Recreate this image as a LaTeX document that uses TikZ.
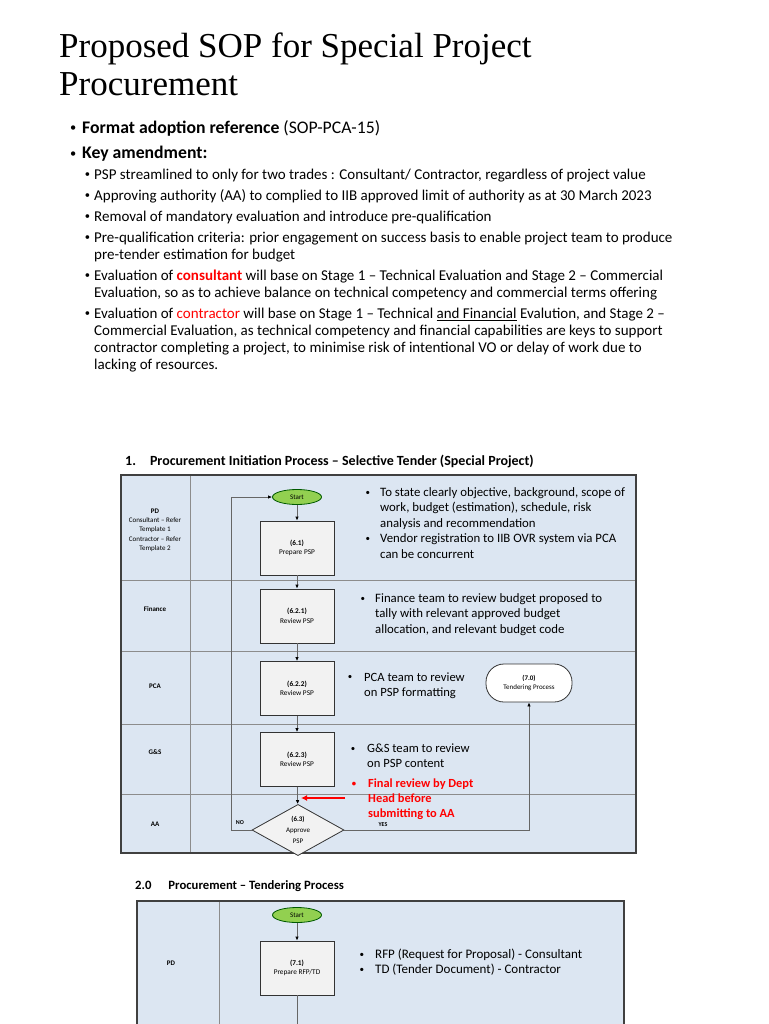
\documentclass[tikz,border=0pt]{standalone}
\usepackage{fontspec}
\setmainfont{Carlito}
\newfontfamily\titlefont{Liberation Serif}
\usepackage{graphicx}
\usepackage{tikz}
\usetikzlibrary{shapes.geometric,arrows.meta,calc,positioning}
\definecolor{laneblue}{HTML}{DCE6F2}
\definecolor{startgreen}{HTML}{92D050}
\definecolor{boxgray}{HTML}{F2F2F2}
\definecolor{notered}{HTML}{FF0000}
\tikzset{
headline/.style={font=\titlefont\fontsize{35}{38}\selectfont,align=left,anchor=west,inner sep=0pt},
toplist/.style={font=\fontsize{17.7}{20}\selectfont,align=left,anchor=west,inner sep=0pt},
sublist/.style={font=\fontsize{15}{17}\selectfont,align=left,anchor=west,inner sep=0pt},
charttitle/.style={font=\bfseries\fontsize{14}{16}\selectfont,anchor=west,inner sep=0pt},
lanebox/.style={draw=black!75,line width=1.3pt,fill=laneblue},
laneline/.style={draw=black!45,line width=0.7pt},
lanelabel/.style={font=\fontsize{7}{9.3}\selectfont,align=center,inner sep=0pt},
lanehead/.style={font=\bfseries\fontsize{7}{8}\selectfont,inner sep=0pt},
startnode/.style={ellipse,draw=green!35!black,line width=0.8pt,fill=startgreen,minimum width=49pt,minimum height=15pt,inner sep=0pt,font=\fontsize{7}{8}\selectfont},
procbox/.style={draw=black!80,line width=0.8pt,fill=boxgray,minimum width=74pt,minimum height=54pt,inner sep=1pt,align=center,font=\fontsize{7.3}{9.5}\selectfont},
decision/.style={diamond,draw=black!80,line width=0.8pt,fill=boxgray,minimum width=92pt,minimum height=46pt,inner sep=0pt,align=center,font=\fontsize{7}{11}\selectfont},
endbox/.style={draw=black!80,line width=0.8pt,fill=white,rounded corners=18pt,minimum width=86pt,minimum height=38pt,inner sep=1pt,align=center,font=\fontsize{7}{9}\selectfont},
flowline/.style={draw=black!60,line width=0.8pt},
flow/.style={flowline,-{Latex[length=4pt,width=3.5pt,color=black]}},
flowlabel/.style={font=\bfseries\fontsize{6}{7}\selectfont,inner sep=0pt},
note/.style={font=\fontsize{12.8}{15.5}\selectfont,align=left,anchor=west,inner sep=0pt},
bignote/.style={note,font=\fontsize{12.6}{15}\selectfont},
rednote/.style={note,text=notered,font=\bfseries\fontsize{12.4}{15}\selectfont},
redarrow/.style={draw=notered,line width=1.8pt,-{Latex[length=6pt,width=6pt]}}
}
\newcommand{\itemdot}[1][9pt]{\llap{\raisebox{0.1em}{\scalebox{0.7}{\textbullet}}\hspace{#1}}}

\begin{document}
\begin{tikzpicture}[x=1pt,y=-1pt]
\useasboundingbox (0,0) rectangle (768,1024);
\fill[white] (0,0) rectangle (768,1024);

% heading and amendments
\node[headline] (title) at (59,64) {Proposed SOP for Special Project\\Procurement};
\node[toplist] (ref) at (82,128) {\itemdot[6pt]\textbf{Format adoption reference} (SOP-PCA-15)};
\node[toplist] (key) at (82,154) {\itemdot[6pt]\textbf{Key amendment:}};
\node[sublist] (amend) at (94,270.5) {%
\itemdot[4pt]PSP streamlined to only for two trades : Consultant/ Contractor, regardless of project value\\[4pt]
\itemdot[4pt]Approving authority (AA) to complied to IIB approved limit of authority as at 30 March 2023\\[4pt]
\itemdot[4pt]Removal of mandatory evaluation and introduce pre-qualification\\[4pt]
\itemdot[4pt]Pre-qualification criteria: prior engagement on success basis to enable project team to produce\\
pre-tender estimation for budget\\[4pt]
\itemdot[4pt]Evaluation of \textcolor{notered}{\textbf{consultant}} will base on Stage 1 -- Technical Evaluation and Stage 2 -- Commercial\\
Evaluation, so as to achieve balance on technical competency and commercial terms offering\\[4pt]
\itemdot[4pt]Evaluation of \textcolor{notered}{contractor} will base on Stage 1 -- Technical \underline{and Financial} Evalution, and Stage 2 --\\
Commercial Evaluation, as technical competency and financial capabilities are keys to support\\
contractor completing a project, to minimise risk of intentional VO or delay of work due to\\
lacking of resources.};

% chart 1: initiation
\node[charttitle] (t1) at (125,461) {1.\hspace{14pt}Procurement Initiation Process -- Selective Tender (Special Project)};
\draw[lanebox] (121,475) rectangle (636,853);
\foreach \y in {580,651,724,794}
  \draw[laneline] (121,\y) -- (636,\y);
\draw[laneline] (190,475) -- (190,853);
\draw[lanebox,fill=none] (121,475) rectangle (636,853);

\node[lanelabel] (lpd) at (155,530) {\textbf{PD}\\Consultant -- Refer\\Template 1\\Contractor -- Refer\\Template 2};
\node[lanehead] (lfin) at (155,609) {Finance};
\node[lanehead] (lpca) at (155,686) {PCA};
\node[lanehead] (lgs) at (155,752) {G\&S};
\node[lanehead] (laa) at (155,824) {AA};

\node[startnode] (start1) at (297,497) {Start};
\node[procbox] (p61) at (297,548) {\textbf{(6.1)}\\Prepare PSP};
\node[procbox] (p621) at (297,616) {\textbf{(6.2.1)}\\Review PSP};
\node[procbox] (p622) at (297,688.5) {\textbf{(6.2.2)}\\Review PSP};
\node[procbox] (p623) at (297,759.5) {\textbf{(6.2.3)}\\Review PSP};
\node[decision] (d63) at (298,830) {\textbf{(6.3)}\\Approve\\PSP};
\node[endbox] (tend) at (529,683) {\textbf{(7.0)}\\Tendering Process};

\foreach \a/\b in {start1/p61,p61/p621,p621/p622,p622/p623,p623/d63}
  \draw[flow] (\a) -- (\b);
\coordinate (noturn) at (231,830);
\draw[flow] (d63.west) -- (noturn) |- (start1.west);
\draw[flow] (d63.east) -| (tend.south);
\node[flowlabel] (no) at (240,823) {NO};
\node[flowlabel] (yes) at (383,825) {YES};

\node[note] (npd) at (380,523) {\itemdot[10pt]To state clearly objective, background, scope of\\work, budget (estimation), schedule, risk\\analysis and recommendation\\\itemdot[10pt]Vendor registration to IIB OVR system via PCA\\can be concurrent};
\node[note] (nfin) at (375,614.5) {\itemdot[10pt]Finance team to review budget proposed to\\tally with relevant approved budget\\allocation, and relevant budget code};
\node[bignote] (npca) at (364,685.5) {\itemdot[12pt]PCA team to review\\on PSP formatting};
\node[bignote] (ngs) at (367,755.5) {\itemdot[12pt]G\&S team to review\\on PSP content};
\node[rednote] (nred) at (368,799) {\itemdot[12pt]Final review by Dept\\Head before\\submitting to AA};

\coordinate (redtail) at (345,798);
\coordinate (redtip) at (301,798);
\draw[redarrow] (redtail) -- (redtip);

% chart 2: tendering
\node[charttitle,font=\bfseries\fontsize{12.7}{14}\selectfont] (t2) at (135,886) {2.0\hspace{17pt}Procurement -- Tendering Process};
\draw[lanebox] (137,901) rectangle (624,1040);
\draw[laneline] (219,901) -- (219,1040);
\draw[lanebox,fill=none] (137,901) rectangle (624,1040);
\node[lanehead] (lpd2) at (171,963) {PD};

\node[startnode] (start2) at (297,915) {Start};
\node[procbox] (p71) at (297,968) {\textbf{(7.1)}\\Prepare RFP/TD};
\draw[flow] (start2) -- (p71);
\coordinate (p71out) at (297,1040);
\draw[flowline] (p71) -- (p71out);

\node[note,font=\fontsize{13}{15}\selectfont] (n71) at (375,962.5) {\itemdot[11pt]RFP (Request for Proposal) - Consultant\\\itemdot[11pt]TD (Tender Document) - Contractor};
\end{tikzpicture}
\end{document}
